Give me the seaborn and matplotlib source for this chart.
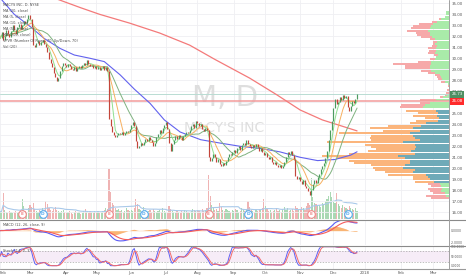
import numpy as np
import pandas as pd
import matplotlib
matplotlib.use("Agg")
import matplotlib.pyplot as plt
import matplotlib.transforms as mtransforms
from matplotlib.lines import Line2D
import seaborn as sns

# ---------------- data ----------------
close_feb = [31.8, 32.4, 31.7, 32.0, 32.6, 32.2, 31.9, 32.5, 33.0, 32.6, 32.2, 32.8, 33.1, 32.7, 33.0, 33.4, 33.2, 33.6, 33.9]
close_mar = [33.6, 32.8, 31.2, 31.0, 31.4, 31.6, 31.2, 31.5, 31.7, 31.3, 31.0, 30.6, 29.9, 29.6, 29.2, 28.7, 28.3, 27.9, 28.2, 28.8, 29.3, 29.6, 29.4]
close_apr = [29.2, 29.5, 29.3, 29.0, 28.9, 29.2, 28.8, 29.1, 29.3, 29.1, 29.4, 29.6, 29.4, 29.8, 29.5, 29.3, 29.4, 29.1, 29.3]
close_may = [29.0, 29.2, 28.9, 29.1, 29.3, 28.9, 29.2, 28.8, 24.5, 23.8, 23.3, 23.0, 22.8, 23.0, 23.2, 23.1, 23.3, 23.0, 23.2, 23.4, 23.3, 23.6]
close_jun = [23.9, 24.2, 23.8, 22.5, 21.8, 22.0, 22.3, 22.1, 22.4, 22.7, 22.5, 22.8, 22.6, 22.4, 22.0, 22.3, 22.8, 23.1, 23.5, 23.2, 23.7, 23.9]
close_jul = [24.2, 23.6, 22.3, 21.6, 22.2, 22.6, 22.9, 22.7, 23.0, 22.8, 22.6, 22.9, 23.1, 23.3, 23.2, 23.5, 23.8, 24.0, 23.7, 24.3]
close_aug = [24.1, 23.8, 24.0, 23.6, 23.4, 23.7, 23.5, 21.0, 20.7, 20.9, 21.3, 21.0, 20.6, 20.8, 20.4, 20.2, 20.5, 20.3, 20.7, 21.0, 21.3, 21.2, 21.5]
close_sep = [21.7, 21.4, 21.8, 22.0, 21.7, 22.1, 22.3, 22.1, 22.6, 22.2, 22.0, 21.8, 22.1, 21.9, 22.2, 21.9, 21.6, 21.8, 21.5, 21.2]
close_oct = [21.4, 21.0, 20.8, 21.0, 20.6, 20.4, 20.6, 20.3, 20.1, 20.3, 20.0, 20.2, 20.6, 21.0, 21.5, 21.3, 21.6, 21.2, 20.8, 19.3, 19.0, 19.2]
close_nov = [18.8, 18.6, 18.9, 18.4, 18.2, 17.9, 17.6, 18.0, 18.6, 18.9, 18.7, 19.2, 19.5, 19.9, 20.2, 20.5, 20.9, 21.6, 22.6, 23.5, 24.3]
close_dec = [25.5, 26.3, 25.8, 26.0, 26.5, 26.2, 26.7, 26.4, 26.6, 25.6, 25.2, 25.7, 26.1, 25.9, 26.3, 26.73]

vol_feb = [8, 9, 28, 10, 8, 7, 9, 8, 7, 8, 9, 7, 8, 10, 22, 14, 9, 8, 12]
vol_mar = [15, 13, 18, 11, 9, 8, 10, 9, 12, 10, 20, 16, 12, 10, 9, 11, 13, 10, 9, 8, 9, 10, 8]
vol_apr = [7, 8, 9, 7, 6, 8, 9, 7, 8, 6, 7, 9, 11, 8, 7, 9, 8, 7, 9]
vol_may = [8, 9, 7, 8, 9, 10, 12, 11, 55, 30, 18, 15, 12, 10, 11, 9, 10, 8, 9, 12, 10, 9]
vol_jun = [10, 9, 12, 22, 16, 11, 10, 9, 13, 10, 8, 9, 10, 8, 11, 9, 8, 9, 10, 8, 12, 9]
vol_jul = [8, 7, 14, 11, 9, 8, 7, 9, 8, 7, 9, 8, 10, 9, 8, 7, 9, 11, 10, 9]
vol_aug = [10, 9, 8, 11, 9, 10, 12, 48, 25, 15, 12, 10, 11, 9, 18, 13, 10, 9, 11, 10, 9, 8, 10]
vol_sep = [9, 11, 10, 8, 9, 12, 10, 9, 11, 20, 13, 10, 9, 8, 10, 9, 11, 10, 12, 22]
vol_oct = [14, 11, 9, 10, 8, 9, 10, 12, 9, 10, 8, 11, 13, 10, 12, 9, 10, 11, 9, 14, 12, 10]
vol_nov = [11, 13, 12, 10, 14, 18, 15, 45, 24, 18, 16, 14, 15, 13, 18, 16, 20, 22, 25, 30, 24]
vol_dec = [20, 18, 28, 16, 14, 12, 15, 13, 12, 11, 14, 12, 11, 10, 12, 9]

# long moving averages (need history before the chart) read at sample bars
ma50_bar = [0, 9, 19, 28, 38, 47, 57, 66, 76, 85, 95, 104, 114, 127, 139, 152, 165, 177, 190, 201, 212, 222, 226]
ma50_val = [35.5, 34.0, 32.9, 31.8, 30.9, 30.3, 30.0, 29.7, 28.5, 27.2, 25.9, 24.4, 23.3, 22.6, 22.3, 22.0, 21.8, 21.5, 21.0, 20.7, 20.8, 21.2, 21.5]
ma200_bar = [32, 51, 63, 82, 101, 120, 136, 158, 175, 190, 204, 215, 226]
ma200_val = [35.6, 34.6, 34.0, 33.2, 32.3, 31.2, 29.9, 28.2, 26.7, 25.3, 24.4, 23.9, 23.4]

# volume profile (visible range): price row, up volume, down volume
prof_price = [34.24, 34.03, 33.78, 33.55, 33.33, 33.12, 32.94, 32.73, 32.51, 32.33, 32.12, 31.91, 31.73, 31.51,
              31.30, 31.12, 30.91, 30.69, 30.51, 30.30, 30.09, 29.91, 29.69, 29.48, 29.30, 29.09, 28.87, 28.69,
              28.48, 28.27, 28.09, 27.87, 27.66, 27.45, 27.12, 26.87, 26.66, 26.45, 26.21, 25.96, 25.75, 25.55,
              25.24, 25.00, 24.78, 24.55, 24.33, 24.09, 23.85, 23.64, 23.42, 23.18, 22.96, 22.75, 22.57, 22.36,
              22.15, 21.96, 21.75, 21.55, 21.33, 21.12, 20.91, 20.69, 20.48, 20.27, 20.05, 19.85, 19.64, 19.42,
              19.21, 19.00, 18.78, 18.57, 18.36, 18.15, 17.94, 17.73, 17.51, 17.33]
prof_up = [3.3, 3.3, 4.3, 7.7, 12, 16, 17.7, 19.3, 21, 18.7, 19.3, 16.7, 14.3, 12,
           14.3, 12, 12.7, 13.3, 14.3, 11, 12.7, 14.3, 17.7, 17.7, 19.3, 18.7, 17.7, 14.3,
           9.3, 7.7, 6.7, 4.3, 1, 0.5, 0, 0.5, 2, 6, 12.7, 19.3, 24.3, 26,
           12.7, 11, 12, 10, 11, 22.7, 27.7, 36, 29.3, 39.3, 36, 34.3, 29.3, 46,
           34.3, 33.3, 34.3, 37.7, 34.3, 51, 44.3, 39.3, 39.3, 44.3, 46, 34.3, 36, 22.7,
           21, 19.3, 15.3, 9.3, 7.7, 6.7, 7.7, 4.3, 3.3, 0]
prof_down = [0, 0, 0, 2.3, 4.7, 14, 18.3, 18.4, 21, 14.6, 12.7, 11, 5, 4,
             1.7, 4.7, 8.3, 6.7, 6.7, 4.3, 0.6, 4.4, 13.3, 38.3, 25, 25.6, 10, 6.7,
             5, 4.3, 4.3, 3.4, 0.5, 0.5, 2, 2.8, 2.3, 3.3, 16.6, 10, 23.4, 23.3,
             30, 20, 24, 14.3, 21.7, 16.6, 33.3, 43.3, 36.7, 70.7, 41.7, 45, 48.4, 76,
             50, 44.4, 38.4, 43.3, 65.7, 76, 67.7, 60.7, 55.7, 33.4, 30, 40, 28.3, 38.3,
             15, 16.7, 19, 11.7, 10, 14.3, 11.6, 11.7, 19.4, 17.7]
va_low, va_high = 18.7, 25.4

event_bar = [14, 27, 69, 91, 132, 157, 197, 220]
event_kind = ["E", "D", "E", "D", "E", "D", "E", "D"]

month_bar = [0, 19, 42, 61, 83, 105, 125, 148, 168, 190, 211, 231, 254, 274]
month_label = ["Feb", "Mar", "Apr", "May", "Jun", "Jul", "Aug", "Sep", "Oct", "Nov", "Dec", "2018", "Feb", "Mar"]
price_ticks = list(range(16, 36))
last_price = 26.73
line_price = 26.08

legend_lines = ["MACYS INC, D, NYSE", "MA (20, close)", "MA (5, close)", "MA (10, close)",
                "MA (50, close)", "MA (200, close)", "VPVR (Number Of Rows, 70, Up/Down, 70)", "Vol (20)"]

# ---------------- derived series ----------------
sns.set_style("white")
plt.rcParams["font.family"] = ["DejaVu Sans"]

close = np.array(close_feb + close_mar + close_apr + close_may + close_jun + close_jul +
                 close_aug + close_sep + close_oct + close_nov + close_dec, dtype=float)
volume = np.array(vol_feb + vol_mar + vol_apr + vol_may + vol_jun + vol_jul +
                  vol_aug + vol_sep + vol_oct + vol_nov + vol_dec, dtype=float)
n = len(close)
idx = np.arange(n)
open_ = np.concatenate([[close[0]], close[:-1]])
rising = close >= open_

s = pd.Series(close)
ma5 = s.rolling(5, min_periods=1).mean()
ma10 = s.rolling(10, min_periods=1).mean()
ma20 = s.rolling(20, min_periods=1).mean()
macd = s.ewm(span=12, adjust=False).mean() - s.ewm(span=26, adjust=False).mean()
signal = macd.ewm(span=9, adjust=False).mean()
hist = macd - signal
lo14 = s.rolling(14, min_periods=1).min()
hi14 = s.rolling(14, min_periods=1).max()
k_raw = (100 * (s - lo14) / (hi14 - lo14).replace(0, np.nan)).fillna(50)
stoch_k = k_raw.rolling(3, min_periods=1).mean()
stoch_d = stoch_k.rolling(3, min_periods=1).mean()
vol_ma = pd.Series(volume).rolling(20, min_periods=1).mean()

# ---------------- figure ----------------
W, H = 466, 275
PLOT_W = 449
fig = plt.figure(figsize=(W / 100, H / 100), dpi=100)
fig.patch.set_facecolor("white")


def rect(top, bottom):
    return [0, 1 - bottom / H, PLOT_W / W, (bottom - top) / H]


axv = fig.add_axes(rect(0, 219))
ax = fig.add_axes(rect(0, 219))
ax.patch.set_alpha(0)
axm = fig.add_axes(rect(220, 245))
axs = fig.add_axes(rect(246, 269))

XMAX = 284.2
PX_PER_BAR = PLOT_W / XMAX
GRID = "#efeff2"
TXT = "#555555"

for a in (axv, ax, axm, axs):
    a.set_xlim(0, XMAX)
    for sp in a.spines.values():
        sp.set_visible(False)
    a.tick_params(length=0)
for a in (axv, axm, axs):
    for t in month_bar:
        a.axvline(t, color=GRID, lw=0.6, zorder=0)

# volume
axv.set_ylim(0, 240)
vcol = np.where(rising, "#aad8b4", "#efb3b3")
axv.bar(idx, volume, width=0.75, color=vcol, linewidth=0, zorder=1)
sns.lineplot(x=idx, y=vol_ma.values, ax=axv, color="#a9c9ea", linewidth=0.8, legend=False, errorbar=None, zorder=2)
axv.set_xticks([])
axv.set_yticks([])
axv.set_ylabel("")

# main price axis
ax.set_ylim(15.39, 35.3)
for p in price_ticks:
    ax.axhline(p, color=GRID, lw=0.6, zorder=0)

ax.text(0.501, 0.553, "M, D", transform=ax.transAxes, fontsize=21, color="#dedede",
        ha="center", va="center", zorder=0.5)
ax.text(0.499, 0.416, "MACY'S INC", transform=ax.transAxes, fontsize=10, color="#dedede",
        ha="center", va="center", zorder=0.5)

# volume profile
for p, u, dn in zip(prof_price, prof_up, prof_down):
    in_va = va_low <= p <= va_high
    c_up = "#6faab8" if in_va else "#a9eba9"
    c_dn = "#fbb57c" if in_va else "#f6a9a9"
    ul = u / PX_PER_BAR
    dl = dn / PX_PER_BAR
    if ul > 0:
        ax.barh(p, ul, left=XMAX - ul, height=0.17, color=c_up, linewidth=0, zorder=1)
    if dl > 0:
        ax.barh(p, dl, left=XMAX - ul - dl, height=0.17, color=c_dn, linewidth=0, zorder=1)

# horizontal price lines
ax.axhline(last_price, color="#b9dcd3", lw=0.7, zorder=1.5)
ax.axhline(line_price, color="#f39b9b", lw=1.1, zorder=1.5)

# moving averages
sns.lineplot(x=ma200_bar, y=ma200_val, ax=ax, color="#f47a7a", linewidth=0.9, legend=False, errorbar=None, zorder=2)
sns.lineplot(x=ma50_bar, y=ma50_val, ax=ax, color="#6262ee", linewidth=0.8, legend=False, errorbar=None, zorder=2)
sns.lineplot(x=idx, y=ma20.values, ax=ax, color="#7fb27f", linewidth=0.7, legend=False, errorbar=None, zorder=2)
sns.lineplot(x=idx, y=ma10.values, ax=ax, color="#f7b060", linewidth=0.7, legend=False, errorbar=None, zorder=2)
sns.lineplot(x=idx, y=ma5.values, ax=ax, color="#8fe08f", linewidth=0.7, legend=False, errorbar=None, zorder=2)

# candles
lo = np.minimum(open_, close)
hi = np.maximum(open_, close)
hi = np.maximum(hi, lo + 0.08)
ccol = np.where(rising, "#4c9a60", "#c4453a")
ax.vlines(idx, lo, hi, colors=ccol, linewidth=0.85, zorder=4)

# earnings / dividends
ev_y = 15.85
for b, kind in zip(event_bar, event_kind):
    col = "#f08a8a" if kind == "E" else "#58abef"
    ax.scatter([b], [ev_y], s=30, facecolor="white", edgecolors=col, linewidths=0.8, zorder=6, clip_on=False)
    ax.text(b, ev_y, kind, fontsize=3.2, color=col, ha="center", va="center", fontweight="bold", zorder=7)

ax.set_xticks([])
ax.yaxis.tick_right()
ax.set_yticks(price_ticks)
ax.set_yticklabels([f"{v:.2f}" for v in price_ticks])
ax.tick_params(axis="y", labelsize=2.9, pad=2, colors=TXT)
ax.set_ylabel("")

blend = mtransforms.blended_transform_factory(ax.transAxes, ax.transData)
ax.text(1.006, last_price, f"{last_price:.2f}", transform=blend, fontsize=2.9, color="white",
        ha="left", va="center", zorder=10, clip_on=False,
        bbox=dict(boxstyle="square,pad=0.35", fc="#4f8f62", ec="none"))
ax.text(1.006, line_price, f"{line_price:.2f}", transform=blend, fontsize=2.9, color="white",
        ha="left", va="center", zorder=10, clip_on=False,
        bbox=dict(boxstyle="square,pad=0.35", fc="#ff2b2b", ec="none"))

# MACD pane
axm.set_ylim(-2.47, 1.84)
axm.fill_between(idx, 0, hist.values, color="#f8a75c", alpha=0.85, linewidth=0, zorder=1)
sns.lineplot(x=idx, y=macd.values, ax=axm, color="#5b5bf5", linewidth=0.8, legend=False, errorbar=None, zorder=2)
sns.lineplot(x=idx, y=signal.values, ax=axm, color="#f55b5b", linewidth=0.8, legend=False, errorbar=None, zorder=2)
axm.set_xticks([])
axm.yaxis.tick_right()
axm.set_yticks([0, -2])
axm.set_yticklabels(["0.0000", "-2.0000"])
axm.tick_params(axis="y", labelsize=2.2, pad=1.2, colors=TXT)
axm.set_ylabel("")

# Stochastic pane
axs.set_ylim(-17.4, 103.7)
axs.axhspan(20, 80, color="#f6ecf7", zorder=0.5, linewidth=0)
axs.axhline(80, color="#a5a5a5", lw=0.5, ls=(0, (2, 2)), zorder=1)
axs.axhline(20, color="#a5a5a5", lw=0.5, ls=(0, (2, 2)), zorder=1)
sns.lineplot(x=idx, y=stoch_k.values, ax=axs, color="#6060f2", linewidth=0.7, legend=False, errorbar=None, zorder=2)
sns.lineplot(x=idx, y=stoch_d.values, ax=axs, color="#f46a6a", linewidth=0.7, legend=False, errorbar=None, zorder=2)
axs.yaxis.tick_right()
axs.set_yticks([100, 50, 0])
axs.set_yticklabels(["100.0000", "50.0000", "0.0000"])
axs.tick_params(axis="y", labelsize=2.1, pad=1.2, colors=TXT)
axs.set_xticks(month_bar)
axs.set_xticklabels(month_label)
axs.tick_params(axis="x", labelsize=2.8, pad=1.5, colors=TXT)
axs.get_xticklabels()[0].set_horizontalalignment("left")
axs.set_ylabel("")

# legends / titles
for i, line in enumerate(legend_lines):
    fig.text(3 / W, 1 - (5 + 5.95 * i) / H, line, fontsize=2.5, color="#4a4a4a", ha="left", va="center")
fig.text(3 / W, 1 - 224.5 / H, "MACD (12, 26, close, 9)", fontsize=2.5, color="#4a4a4a", ha="left", va="center")
fig.text(3 / W, 1 - 250.5 / H, "Stoch (14, 3, 3)", fontsize=2.5, color="#4a4a4a", ha="left", va="center")

# separators
for yy, col in ((220, "#8a8a8a"), (245.5, "#8a8a8a"), (269, "#9a9a9a")):
    fig.add_artist(Line2D([0, 1], [1 - yy / H, 1 - yy / H], color=col, lw=0.8, transform=fig.transFigure))
fig.add_artist(Line2D([PLOT_W / W, PLOT_W / W], [1 - 269 / H, 1], color="#a0a0a0", lw=0.7,
                      transform=fig.transFigure))

fig.savefig("out.png", dpi=100, facecolor="white")
